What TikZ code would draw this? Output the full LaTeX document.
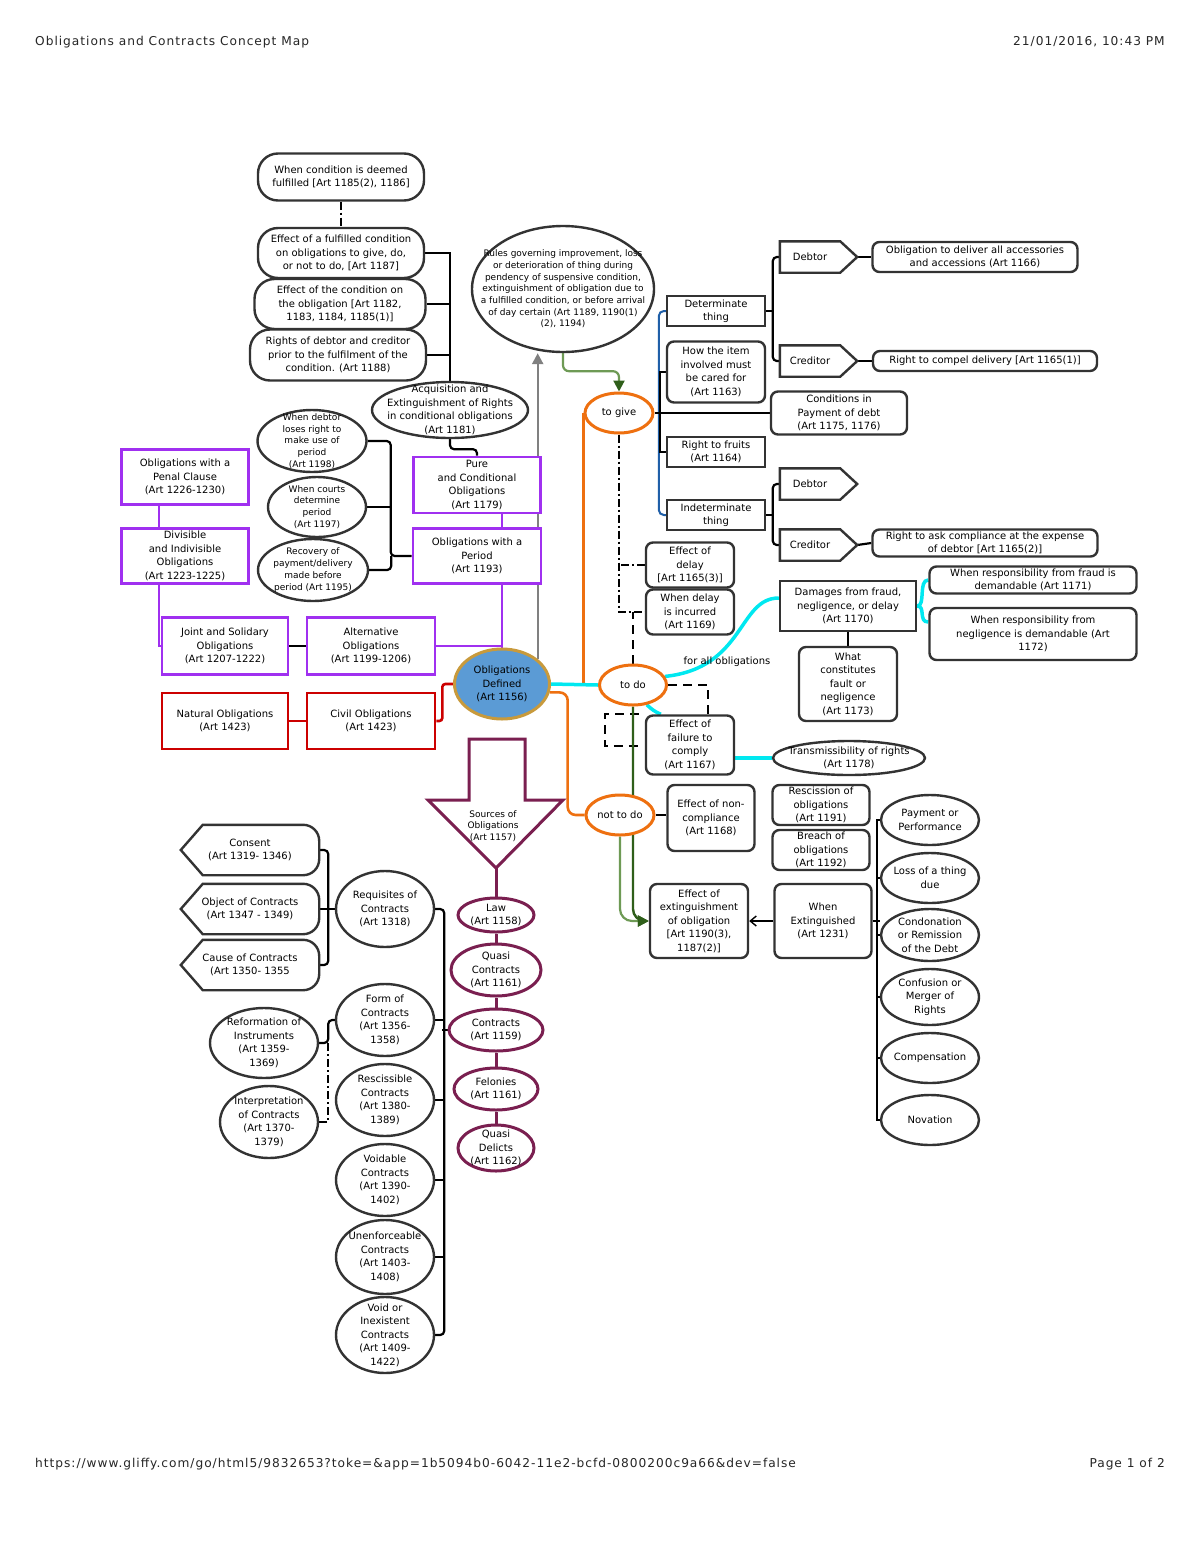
\documentclass[tikz,border=0pt]{standalone}
\usepackage{fontspec}
\setmainfont{DejaVu Sans}
\newfontfamily\hdrfont[LetterSpace=8]{DejaVu Sans}
\usepackage{tikz}
\usetikzlibrary{shapes.geometric, arrows.meta, positioning, calc, backgrounds}
\definecolor{mapgray}{HTML}{333333}
\definecolor{mappurple}{HTML}{A030F0}
\definecolor{mapred}{HTML}{CC0000}
\definecolor{mapmaroon}{HTML}{7A1F50}
\definecolor{maporange}{HTML}{EE7010}
\definecolor{mapcyan}{HTML}{00E8F0}
\definecolor{mapblue}{HTML}{1F5FA8}
\definecolor{mapgreen}{HTML}{2F5F1A}
\definecolor{maplgreen}{HTML}{6E9A55}
\definecolor{mapdef}{HTML}{5B9BD5}
\definecolor{mapgold}{HTML}{C89A3C}
\newcommand{\mapfont}{\fontsize{10}{13.5}\selectfont}
\newcommand{\mapsmall}{\fontsize{9}{11.7}\selectfont}
\tikzset{
  box/.style={draw=mapgray, fill=white, line width=2.4pt, font=\mapfont, align=center, inner sep=1pt},
  sqbox/.style={box, minimum width=98, minimum height=30},
  rbox/.style={box, rounded corners=7pt},
  pill/.style={box, rounded corners=20pt, minimum height=50},
  pbox/.style={box, draw=mappurple, line width=2.6pt, minimum width=127, minimum height=56},
  redbox/.style={pbox, draw=mapred},
  oval/.style={ellipse, draw=mapgray, fill=white, line width=2.4pt, inner sep=0pt},
  srcoval/.style={oval, draw=mapmaroon, line width=3pt},
  actoval/.style={oval, draw=maporange, line width=3pt, minimum width=68, minimum height=40},
  txt/.style={font=\mapfont, align=center, inner sep=0pt},
  smalltxt/.style={font=\mapsmall, align=center, inner sep=0pt},
  tag/.style={font=\mapfont, minimum width=60, minimum height=31, inner sep=0pt},
  outline/.style={draw=mapgray, line width=2.4pt, line join=miter},
  hdr/.style={font=\hdrfont\fontsize{12.2}{14}\selectfont, text=black!85, inner sep=0pt},
  link/.style={line width=2.2pt, black},
  plink/.style={line width=2.6pt, mappurple},
  rlink/.style={line width=2.6pt, mapred},
  mlink/.style={line width=3pt, mapmaroon},
  olink/.style={line width=2.6pt, maporange},
  clink/.style={line width=3.5pt, mapcyan},
  blink/.style={line width=2pt, mapblue},
  dlink/.style={link, dash pattern=on 9pt off 6pt},
  ddlink/.style={link, dash pattern=on 8pt off 3pt on 2pt off 3pt},
  graylink/.style={line width=2.4pt, gray, -{Triangle[width=11pt,length=11pt]}},
  greenlink/.style={line width=2.2pt, maplgreen, -{Triangle[width=11pt,length=11pt,color=mapgreen]}},
  dgreenlink/.style={line width=2.4pt, mapgreen, -{Triangle[width=11pt,length=11pt]}},
  lgreenlink/.style={line width=2.2pt, maplgreen, -{Triangle[width=11pt,length=11pt,color=mapgreen]}},
}
\begin{document}
\begin{tikzpicture}[x=1pt, y=-1pt]
    \useasboundingbox (0,0) rectangle (1200,1553);

    % Page header and footer
    \node[hdr, anchor=west] (title) at (35,42) {Obligations and Contracts Concept Map};
    \node[hdr, anchor=east] (stamp) at (1165,42) {21/01/2016, 10:43 PM};
    \node[hdr, anchor=west] (url) at (35,1464) {https://www.gliffy.com/go/html5/9832653?toke=\&app=1b5094b0-6042-11e2-bcfd-0800200c9a66\&dev=false};
    \node[hdr, anchor=east] (pageno) at (1165,1464) {Page 1 of 2};

    % Conditional obligations
    \node[pill, minimum width=166, minimum height=47] (c1) at (341,177) {When condition is deemed\\fulfilled [Art 1185(2), 1186]};
    \node[pill, minimum width=166] (c2) at (341,253) {Effect of a fulfilled condition\\on obligations to give, do,\\or not to do, [Art 1187]};
    \node[pill, minimum width=171] (c3) at (340,304) {Effect of the condition on\\the obligation [Art 1182,\\1183, 1184, 1185(1)]};
    \node[pill, minimum width=176, minimum height=51] (c4) at (338,355) {Rights of debtor and creditor\\prior to the fulfilment of the\\condition. (Art 1188)};
    \node[oval, minimum width=156, minimum height=56, label={[txt]center:{Acquisition and\\Extinguishment of Rights\\in conditional obligations\\(Art 1181)}}] (acq) at (450,410) {};
    \node[oval, minimum width=182, minimum height=126, label={[smalltxt]center:{Rules governing improvement, loss\\or deterioration of thing during\\pendency of suspensive condition,\\extinguishment of obligation due to\\a fulfilled condition, or before arrival\\of day certain (Art 1189, 1190(1)\\(2), 1194)}}] (rules) at (563,289) {};

    % Obligations with a period
    \node[oval, minimum width=109, minimum height=62, label={[smalltxt]center:{When debtor\\loses right to\\make use of\\period\\(Art 1198)}}] (p1) at (312,441) {};
    \node[oval, minimum width=98, minimum height=60, label={[smalltxt]center:{When courts\\determine\\period\\(Art 1197)}}] (p2) at (317,507) {};
    \node[oval, minimum width=110, minimum height=62, label={[smalltxt]center:{Recovery of\\payment/delivery\\made before\\period (Art 1195)}}] (p3) at (313,570) {};

    % Kinds of obligations
    \node[pbox] (pure) at (477,485) {Pure\\and Conditional\\Obligations\\(Art 1179)};
    \node[pbox, minimum width=128, minimum height=55] (period) at (477,556) {Obligations with a\\Period\\(Art 1193)};
    \node[pbox, minimum height=55] (penal) at (185,477) {Obligations with a\\Penal Clause\\(Art 1226-1230)};
    \node[pbox, minimum height=55] (divis) at (185,556) {Divisible\\and Indivisible\\Obligations\\(Art 1223-1225)};
    \node[pbox, minimum width=126, minimum height=57] (joint) at (225,646) {Joint and Solidary\\Obligations\\(Art 1207-1222)};
    \node[pbox, minimum width=128, minimum height=57] (alt) at (371,646) {Alternative\\Obligations\\(Art 1199-1206)};
    \node[redbox, minimum width=126] (natural) at (225,721) {Natural Obligations\\(Art 1423)};
    \node[redbox, minimum width=128] (civil) at (371,721) {Civil Obligations\\(Art 1423)};
    \node[oval, fill=mapdef, draw=mapgold, line width=3pt, minimum width=95, minimum height=70, label={[txt]center:{Obligations\\Defined\\(Art 1156)}}] (defined) at (502,684) {};

    % Kinds of prestation
    \node[actoval, label={[txt]center:to give}] (togive) at (619,413) {};
    \node[actoval, minimum width=67, label={[txt]center:to do}] (todo) at (633,685) {};
    \node[actoval, label={[txt]center:not to do}] (nottodo) at (620,815) {};

    % To give
    \node[sqbox] (determ) at (716,311) {Determinate\\thing};
    \node[rbox, minimum width=98, minimum height=61] (how) at (716,372) {How the item\\involved must\\be cared for\\(Art 1163)};
    \node[rbox, minimum width=136, minimum height=43] (cond) at (839,413) {Conditions in\\Payment of debt\\(Art 1175, 1176)};
    \node[sqbox] (fruits) at (716,452) {Right to fruits\\(Art 1164)};
    \node[sqbox] (indeterm) at (716,515) {Indeterminate\\thing};
    \node[tag] (debtor1) at (810,257) {Debtor};
    \node[tag] (creditor1) at (810,361) {Creditor};
    \node[tag] (debtor2) at (810,484) {Debtor};
    \node[tag] (creditor2) at (810,545) {Creditor};
    \foreach \t in {debtor1,creditor1,debtor2,creditor2}
        \draw[outline] (\t.north west) -- (\t.north east) -- ([xshift=17pt]\t.east) -- (\t.south east) -- (\t.south west) -- cycle;
    \node[rbox, minimum width=205, minimum height=30] (oblacc) at (975,257) {Obligation to deliver all accessories\\and accessions (Art 1166)};
    \node[rbox, minimum width=224, minimum height=20] (compel) at (985,361) {Right to compel delivery [Art 1165(1)]};
    \node[rbox, minimum width=225, minimum height=27] (askcomp) at (985,543) {Right to ask compliance at the expense\\of debtor [Art 1165(2)]};

    % To do
    \node[rbox, minimum width=88, minimum height=45] (delay) at (690,565) {Effect of\\delay\\{[Art 1165(3)]}};
    \node[rbox, minimum width=88, minimum height=45] (whendelay) at (690,612) {When delay\\is incurred\\(Art 1169)};
    \node[rbox, minimum width=88, minimum height=59] (failure) at (690,745) {Effect of\\failure to\\comply\\(Art 1167)};
    \node[box, minimum width=136, minimum height=50] (damages) at (848,606) {Damages from fraud,\\negligence, or delay\\(Art 1170)};
    \node[rbox, minimum width=98, minimum height=74] (fault) at (848,684) {What\\constitutes\\fault or\\negligence\\(Art 1173)};
    \node[rbox, minimum width=207, minimum height=27] (fraud) at (1033,580) {When responsibility from fraud is\\demandable (Art 1171)};
    \node[rbox, minimum width=207, minimum height=52] (neglig) at (1033,634) {When responsibility from\\negligence is demandable (Art\\1172)};
    \node[oval, minimum width=152, minimum height=34, label={[txt]center:{Transmissibility of rights\\(Art 1178)}}] (transm) at (849,758) {};
    \node[txt] (forall) at (727,662) {for all obligations};

    % Not to do and extinguishment
    \node[rbox, minimum width=87, minimum height=66] (noncomp) at (711,818) {Effect of non-\\compliance\\(Art 1168)};
    \node[rbox, minimum width=97, minimum height=40] (rescis) at (821,805) {Rescission of\\obligations\\(Art 1191)};
    \node[rbox, minimum width=97, minimum height=40] (breach) at (821,850) {Breach of\\obligations\\(Art 1192)};
    \node[rbox, minimum width=98, minimum height=74] (effext) at (699,921) {Effect of\\extinguishment\\of obligation\\{[Art 1190(3),}\\1187(2)]};
    \node[rbox, minimum width=97, minimum height=74] (whenext) at (823,921) {When\\Extinguished\\(Art 1231)};
    \node[oval, minimum width=98, minimum height=50, label={[txt]center:{Payment or\\Performance}}] (pay) at (930,820) {};
    \node[oval, minimum width=98, minimum height=50, label={[txt]center:{Loss of a thing\\due}}] (loss) at (930,878) {};
    \node[oval, minimum width=98, minimum height=52, label={[txt]center:{Condonation\\or Remission\\of the Debt}}] (condon) at (930,935) {};
    \node[oval, minimum width=98, minimum height=56, label={[txt]center:{Confusion or\\Merger of\\Rights}}] (confus) at (930,997) {};
    \node[oval, minimum width=98, minimum height=50, label={[txt]center:Compensation}] (compens) at (930,1058) {};
    \node[oval, minimum width=98, minimum height=50, label={[txt]center:Novation}] (novat) at (930,1120) {};

    % Sources of obligations
    \coordinate (srctip) at (496,868);
    \draw[mlink, line join=miter, fill=white] (469,739) -- (525,739) -- (525,800) -- (563,800) -- (srctip) -- (428,800) -- (469,800) -- cycle;
    \node[smalltxt] (sources) at (493,826) {Sources of\\Obligations\\(Art 1157)};
    \node[srcoval, minimum width=76, minimum height=34, label={[txt]center:{Law\\(Art 1158)}}] (law) at (496,915) {};
    \node[srcoval, minimum width=90, minimum height=52, label={[txt]center:{Quasi\\Contracts\\(Art 1161)}}] (quasic) at (496,970) {};
    \node[srcoval, minimum width=94, minimum height=42, label={[txt]center:{Contracts\\(Art 1159)}}] (contracts) at (496,1030) {};
    \node[srcoval, minimum width=84, minimum height=42, label={[txt]center:{Felonies\\(Art 1161)}}] (felonies) at (496,1089) {};
    \node[srcoval, minimum width=76, minimum height=46, label={[txt]center:{Quasi\\Delicts\\(Art 1162)}}] (qdelicts) at (496,1148) {};

    % Contracts
    \node[oval, minimum width=98, minimum height=76, label={[txt]center:{Requisites of\\Contracts\\(Art 1318)}}] (requis) at (385,909) {};
    \node[oval, minimum width=98, minimum height=72, label={[txt]center:{Form of\\Contracts\\(Art 1356-\\1358)}}] (form) at (385,1020) {};
    \node[oval, minimum width=98, minimum height=72, label={[txt]center:{Rescissible\\Contracts\\(Art 1380-\\1389)}}] (rescind) at (385,1100) {};
    \node[oval, minimum width=98, minimum height=72, label={[txt]center:{Voidable\\Contracts\\(Art 1390-\\1402)}}] (voidable) at (385,1180) {};
    \node[oval, minimum width=98, minimum height=74, label={[txt]center:{Unenforceable\\Contracts\\(Art 1403-\\1408)}}] (unenf) at (385,1257) {};
    \node[oval, minimum width=98, minimum height=76, label={[txt]center:{Void or\\Inexistent\\Contracts\\(Art 1409-\\1422)}}] (void) at (385,1335) {};
    \node[oval, minimum width=108, minimum height=70, label={[txt]center:{Reformation of\\Instruments\\(Art 1359-\\1369)}}] (reform) at (264,1043) {};
    \node[oval, minimum width=98, minimum height=72, label={[txt]center:{Interpretation\\of Contracts\\(Art 1370-\\1379)}}] (interp) at (269,1122) {};
    \node[txt, minimum width=138, minimum height=50] (consent) at (250,850) {Consent\\(Art 1319- 1346)};
    \node[txt, minimum width=138, minimum height=50] (object) at (250,909) {Object of Contracts\\(Art 1347 - 1349)};
    \node[txt, minimum width=138, minimum height=50] (cause) at (250,965) {Cause of Contracts\\(Art 1350- 1355};
    \foreach \t in {consent,object,cause}
        \draw[outline] (\t.west) -- ([xshift=22pt]\t.north west) -- ([xshift=-16pt]\t.north east)
            arc[start angle=90, end angle=0, radius=16pt] -- ([yshift=16pt]\t.south east)
            arc[start angle=0, end angle=-90, radius=16pt] -- ([xshift=22pt]\t.south west) -- cycle;

    \begin{scope}[on background layer]
        \fill[white] (0,0) rectangle (1200,1553);

        % Conditions
        \draw[ddlink] (c1.south) -- (c2.north);
        \draw[link] (c2.east) -| (acq.north);
        \draw[link] (c3.east) -- (c3.east -| acq.north);
        \draw[link] (c4.east) -- (c4.east -| acq.north);
        \draw[link, rounded corners=4pt] (acq.south) -- ++(0,10) -| (pure.north);
        \draw[link, rounded corners=4pt] (p1.east) -- ++(23,0) |- (period.west);
        \draw[link] (p2.east) -- ++(24,0);
        \draw[link, rounded corners=4pt] (p3.east) -- ++(22,0) -- ++(0,-14);

        % Purple and red tree
        \draw[plink] ([xshift=25pt]pure.south) -- ([xshift=25pt]period.north);
        \draw[plink] ([xshift=25pt]period.south) -- (defined.north);
        \draw[plink] (alt.east) -- (alt.east -| defined.north);
        \draw[plink] ([xshift=-26pt]penal.south) -- ([xshift=-26pt]divis.north);
        \draw[plink] ([xshift=-26pt]divis.south) |- (joint.west);
        \draw[link] (joint) -- (alt);
        \draw[rlink] (natural) -- (civil);
        \draw[rlink, rounded corners=3pt] (civil.east) -- ++(6,0) |- (defined.west);

        % Arrows to and from the rules
        \draw[graylink] (defined.35) -- (defined.35 |- rules.south);
        \draw[greenlink, rounded corners=6pt] (rules.south) -- ++(0,18) -| (togive.north);

        % Prestations
        \draw[olink] (togive.west) |- (defined.east);
        \draw[olink, rounded corners=8pt] (defined.-10) -- ++(18,0) |- (nottodo.west);
        \draw[clink] (defined.east) -- (todo.west);

        % To give
        \draw[blink, rounded corners=5pt] (determ.west) -- ++(-7,0) |- (indeterm.west);
        \draw[link] (togive.east) -- (cond.west);
        \draw[link] (how.west) -- ++(-6,0) |- (fruits.west);
        \draw[link] (determ.east) -- ++(8,0);
        \draw[link, rounded corners=4pt] (debtor1.west) -- ++(-7,0) |- (creditor1.west);
        \draw[link] (indeterm.east) -- ++(8,0);
        \draw[link, rounded corners=4pt] (debtor2.west) -- ++(-7,0) |- (creditor2.west);
        \draw[link] ([xshift=17pt]debtor1.east) -- (oblacc.west);
        \draw[link] ([xshift=17pt]creditor1.east) -- (compel.west);
        \draw[link] ([xshift=17pt]creditor2.east) -- (askcomp.west);

        % To do
        \draw[ddlink] (togive.south) |- (whendelay.west);
        \draw[ddlink] (delay.west) -- (delay.west -| togive.south);
        \draw[dlink] (todo.north) -- (todo.north |- whendelay.west);
        \draw[dlink] (todo.east) -- ++(40,0) -- ++(0,30);
        \draw[dlink] ([xshift=-6pt]failure.north west) -- ++(-34,0) -- ++(0,32) -- ++(34,0);
        \draw[clink] (todo.-55) to[bend right=10] ([xshift=16pt]failure.north west);
        \draw[clink] (todo.15) .. controls (745,668) and (738,598) .. ([yshift=8pt]damages.west);
        \draw[link] (damages) -- (fault);
        \draw[clink] (damages.east) .. controls (926,606) and (918,580) .. (fraud.west);
        \draw[clink] (damages.east) .. controls (926,606) and (918,622) .. ([yshift=12pt]neglig.west);
        \draw[clink] (failure.east |- transm.west) -- (transm.west);

        % Not to do and extinguishment
        \draw[link] (nottodo.east) -- (nottodo.east -| noncomp.west);
        \draw[lgreenlink, rounded corners=12pt] (nottodo.south) |- (effext.west);
        \draw[dgreenlink, rounded corners=12pt] (todo.south) |- (effext.west);
        \draw[link, line width=1.4pt, -{Straight Barb[length=6pt,width=10pt]}] (whenext.west) -- (effext.east);
        \draw[link] ([xshift=-3pt]pay.west) -- ([xshift=-3pt]novat.west);
        \foreach \r in {pay,loss,condon,confus,compens,novat}
            \draw[link] (\r.west) -- ++(-4,0);
        \draw[link] (whenext.east) -- (whenext.east -| novat.west);

        % Sources chain
        \draw[mlink] (srctip) -- (law);
        \foreach \a/\b in {law/quasic, quasic/contracts, contracts/felonies, felonies/qdelicts}
            \draw[mlink] (\a) -- (\b);

        % Contracts tree
        \draw[link, rounded corners=4pt] (requis.east) -- ++(9,0) |- (void.east);
        \foreach \k in {form,rescind,voidable,unenf}
            \draw[link] (\k.east) -- ++(9,0);
        \draw[link] (contracts.west) -- ++(-6,0);
        \draw[link, rounded corners=4pt] (consent.east) -- ++(9,0) |- (cause.east);
        \draw[link] (object.east) -- (requis.west);
        \draw[link, rounded corners=4pt] (reform.east) -- ++(9,0) |- (form.west);
        \draw[ddlink] ([xshift=9pt]reform.east) |- (interp.east);
    \end{scope}
\end{tikzpicture}
\end{document}
